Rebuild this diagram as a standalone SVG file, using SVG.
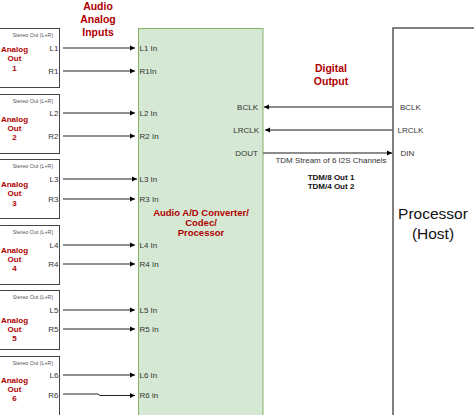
<svg xmlns="http://www.w3.org/2000/svg" width="474" height="415" viewBox="0 0 474 415">
<style>
text{font-family:"Liberation Sans",Arial,sans-serif;}
.lbl{font-size:8px;fill:#333333;}
.red{fill:#b00000;font-weight:bold;}
.src{fill:#ffffff;stroke:#444444;stroke-width:1;}
.small{font-size:5.3px;fill:#555555;}
.aout{font-size:8px;text-anchor:middle;}
.in{stroke:#222222;stroke-width:1;fill:none;marker-end:url(#ah);}
.dig{stroke:#666666;stroke-width:1.4;fill:none;}
</style>
<defs>
<marker id="ah" markerWidth="6" markerHeight="6" refX="5" refY="3" orient="auto" markerUnits="userSpaceOnUse"><path d="M0,0.6 L5,3 L0,5.4 Z" fill="#000000"/></marker>
<marker id="ah2" markerWidth="7" markerHeight="7" refX="5" refY="3.5" orient="auto" markerUnits="userSpaceOnUse"><path d="M0,1 L5,3.5 L0,6 Z" fill="#000000"/></marker>
</defs>
<rect width="474" height="415" fill="#ffffff"/>

<g id="title-inputs">
<text class="red" x="98" y="10" font-size="10.5" text-anchor="middle">Audio</text>
<text class="red" x="98" y="23" font-size="10.5" text-anchor="middle">Analog</text>
<text class="red" x="98" y="35.5" font-size="10.5" text-anchor="middle">Inputs</text>
</g>

<g id="title-digital">
<text class="red" x="331" y="71.5" font-size="10.5" text-anchor="middle">Digital</text>
<text class="red" x="331" y="84.5" font-size="10.5" text-anchor="middle">Output</text>
</g>

<g id="codec">
<rect x="138.5" y="28.5" width="124.5" height="400" fill="#d5e8d4" stroke="#82b366" stroke-width="1"/>
<text class="red" x="201" y="215.7" font-size="9.5" text-anchor="middle">Audio A/D Converter/</text>
<text class="red" x="201" y="225.9" font-size="9.5" text-anchor="middle">Codec/</text>
<text class="red" x="201" y="236.2" font-size="9.5" text-anchor="middle">Processor</text>
<text class="lbl" x="139.5" y="51">L1 In</text>
<text class="lbl" x="139.5" y="74">R1In</text>
<text class="lbl" x="139.5" y="116">L2 In</text>
<text class="lbl" x="139.5" y="139">R2 In</text>
<text class="lbl" x="139.5" y="182">L3 In</text>
<text class="lbl" x="139.5" y="202">R3 In</text>
<text class="lbl" x="139.5" y="248">L4 In</text>
<text class="lbl" x="139.5" y="267">R4 In</text>
<text class="lbl" x="139.5" y="313">L5 In</text>
<text class="lbl" x="139.5" y="332">R5 In</text>
<text class="lbl" x="139.5" y="378">L6 In</text>
<text class="lbl" x="139.5" y="398">R6 in</text>
<text class="lbl" x="258" y="110" text-anchor="end">BCLK</text>
<text class="lbl" x="259" y="133" text-anchor="end">LRCLK</text>
<text class="lbl" x="258" y="156" text-anchor="end">DOUT</text>
</g>

<g id="host">
<rect x="393" y="28" width="90" height="400" fill="#ffffff" stroke="#555555" stroke-width="1.5"/>
<text x="433" y="218.5" font-size="15.5" text-anchor="middle" fill="#111111">Processor</text>
<text x="433" y="238.5" font-size="15.5" text-anchor="middle" fill="#111111">(Host)</text>
<text class="lbl" x="400" y="110">BCLK</text>
<text class="lbl" x="397.5" y="133">LRCLK</text>
<text class="lbl" x="400.5" y="156">DIN</text>
</g>

<g id="out1">
<rect class="src" x="-10" y="28.5" width="69.5" height="59"/>
<text class="small" x="12.7" y="37">Stereo Out (L+R)</text>
<text class="red aout" x="14.5" y="52">Analog</text>
<text class="red aout" x="14.5" y="61">Out</text>
<text class="red aout" x="14.5" y="71">1</text>
<text class="lbl" x="58.5" y="51" text-anchor="end">L1</text>
<text class="lbl" x="58.5" y="74" text-anchor="end">R1</text>
</g>
<g id="out2">
<rect class="src" x="-10" y="94.5" width="69.5" height="59"/>
<text class="small" x="12.7" y="103">Stereo Out (L+R)</text>
<text class="red aout" x="14.5" y="122">Analog</text>
<text class="red aout" x="14.5" y="131">Out</text>
<text class="red aout" x="14.5" y="139.5">2</text>
<text class="lbl" x="58.5" y="116" text-anchor="end">L2</text>
<text class="lbl" x="58.5" y="139" text-anchor="end">R2</text>
</g>
<g id="out3">
<rect class="src" x="-10" y="159.5" width="69.5" height="59"/>
<text class="small" x="12.7" y="168">Stereo Out (L+R)</text>
<text class="red aout" x="14.5" y="187">Analog</text>
<text class="red aout" x="14.5" y="196">Out</text>
<text class="red aout" x="14.5" y="205.5">3</text>
<text class="lbl" x="58.5" y="182" text-anchor="end">L3</text>
<text class="lbl" x="58.5" y="202" text-anchor="end">R3</text>
</g>
<g id="out4">
<rect class="src" x="-10" y="225.5" width="69.5" height="59"/>
<text class="small" x="12.7" y="234">Stereo Out (L+R)</text>
<text class="red aout" x="14.5" y="253">Analog</text>
<text class="red aout" x="14.5" y="261.5">Out</text>
<text class="red aout" x="14.5" y="271">4</text>
<text class="lbl" x="58.5" y="248" text-anchor="end">L4</text>
<text class="lbl" x="58.5" y="267" text-anchor="end">R4</text>
</g>
<g id="out5">
<rect class="src" x="-10" y="290.5" width="69.5" height="59"/>
<text class="small" x="12.7" y="299">Stereo Out (L+R)</text>
<text class="red aout" x="14.5" y="323">Analog</text>
<text class="red aout" x="14.5" y="332">Out</text>
<text class="red aout" x="14.5" y="341">5</text>
<text class="lbl" x="58.5" y="313" text-anchor="end">L5</text>
<text class="lbl" x="58.5" y="332" text-anchor="end">R5</text>
</g>
<g id="out6">
<rect class="src" x="-10" y="356.5" width="69.5" height="70"/>
<text class="small" x="12.7" y="365">Stereo Out (L+R)</text>
<text class="red aout" x="14.5" y="383">Analog</text>
<text class="red aout" x="14.5" y="392">Out</text>
<text class="red aout" x="14.5" y="401">6</text>
<text class="lbl" x="58.5" y="378" text-anchor="end">L6</text>
<text class="lbl" x="58.5" y="398" text-anchor="end">R6</text>
</g>

<g id="connectors">
<line class="in" x1="63" y1="48" x2="135" y2="48"/>
<line class="in" x1="63" y1="71" x2="135" y2="71"/>
<line class="in" x1="63" y1="113" x2="135" y2="113"/>
<line class="in" x1="63" y1="136" x2="135" y2="136"/>
<line class="in" x1="63" y1="179" x2="137" y2="179"/>
<line class="in" x1="63" y1="199" x2="135" y2="199"/>
<line class="in" x1="63" y1="245" x2="135" y2="245"/>
<line class="in" x1="63" y1="264" x2="135" y2="264"/>
<line class="in" x1="63" y1="310" x2="135" y2="310"/>
<line class="in" x1="63" y1="329" x2="135" y2="329"/>
<line class="in" x1="63" y1="375" x2="135" y2="375"/>
<polyline class="in" points="63,394 98,394 100,395.5 135,395.5"/>
<line class="dig" x1="393" y1="107" x2="264" y2="107" marker-end="url(#ah2)"/>
<line class="dig" x1="393" y1="130" x2="265" y2="130" marker-end="url(#ah2)"/>
<line class="dig" x1="263" y1="153" x2="392" y2="153" marker-end="url(#ah2)"/>
<text x="331" y="162.5" font-size="8" text-anchor="middle" fill="#333333">TDM Stream of 6 I2S Channels</text>
<text x="331" y="179.5" font-size="8" font-weight="bold" text-anchor="middle" fill="#111111">TDM/8 Out 1</text>
<text x="331" y="188.5" font-size="8" font-weight="bold" text-anchor="middle" fill="#111111">TDM/4 Out 2</text>
</g>
</svg>
